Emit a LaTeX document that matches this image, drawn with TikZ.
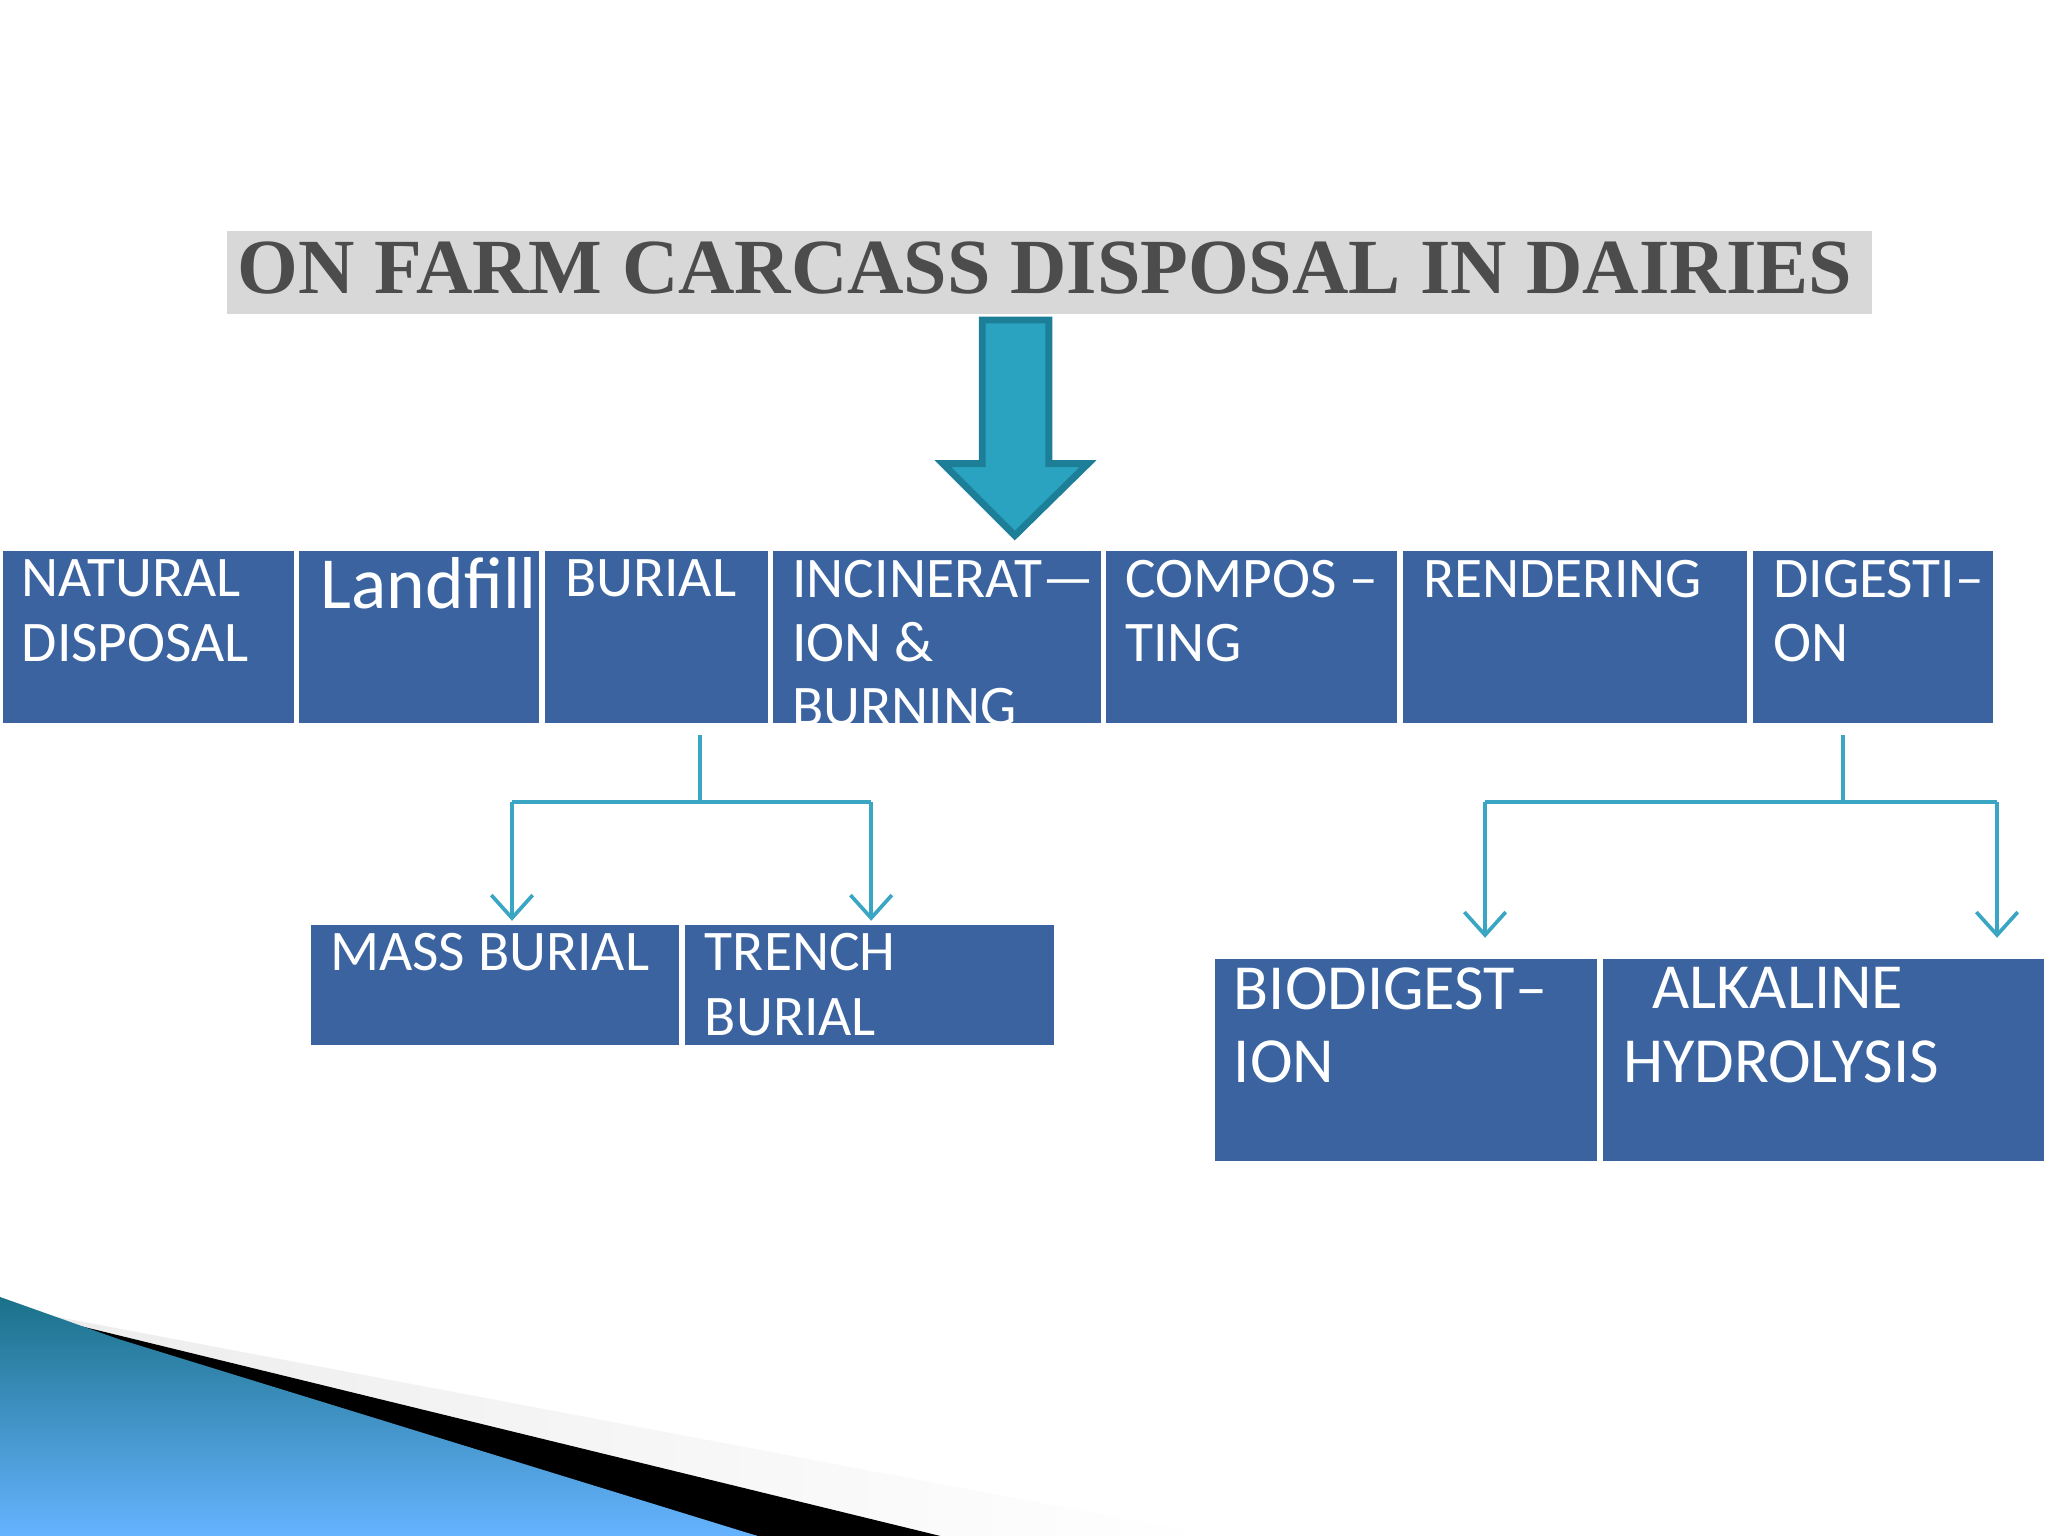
\documentclass[tikz,border=0pt]{standalone}
\usepackage{fontspec}
\setmainfont{Carlito}
\newfontfamily\titlefont{Liberation Serif}
\usetikzlibrary{arrows.meta,shadows}
\definecolor{boxblue}{HTML}{3A63A0}
\definecolor{lineblue}{HTML}{3BA6C4}
\definecolor{arrfill}{HTML}{2AA3C0}
\definecolor{arrdraw}{HTML}{1D7E98}
\begin{document}
\begin{tikzpicture}[x=0.01cm,y=-0.01cm,
  cell/.style={fill=boxblue,draw=white,line width=1.2pt},
  lbl/.style={anchor=north west,text=white,font=\fontsize{12.5}{14}\selectfont,align=left,inner sep=0pt},
  conn/.style={draw=lineblue,line width=0.8pt},
  arr/.style={conn,-{Straight Barb[length=5pt,width=9pt]}}]
\useasboundingbox (0,0) rectangle (1568,1176);
\fill[white] (0,0) rectangle (1568,1176);
% bottom decoration
\shade[left color=gray!15,right color=white] (0,1000) -- (930,1176) -- (0,1176) -- cycle;
\fill[black] (40,1010) -- (720,1176) -- (580,1176) -- (0,1020) -- cycle;
\shade[bottom color=cyan!50!blue!60!white,top color=arrdraw!90!black] (0,993) -- (90,1025) -- (580,1176) -- (0,1176) -- cycle;
% title
\node[font=\titlefont\bfseries\fontsize{17}{20}\selectfont,text=black!70,drop shadow={opacity=0.3,shadow xshift=1pt,shadow yshift=-1pt}] (title) at (800,205) {ON FARM CARCASS DISPOSAL IN DAIRIES};
% big arrow
\draw[fill=arrfill,draw=arrdraw,line width=1.5pt] (752,245) -- (803,245) -- (803,355) -- (833,355) -- (777,410) -- (722,355) -- (752,355) -- cycle;
% top cells
\foreach \a/\b/\n in {0/227/c1,227/415/c2,415/590/c3,590/845/c4,845/1072/c5,1072/1340/c6,1340/1528/c7}
  \path[cell] (\a,420) rectangle (\b,556) coordinate (\n);
\node[lbl] (t1) at (16,428) {NATURAL\\DISPOSAL};
\node[lbl,font=\fontsize{16}{18}\selectfont] (t2) at (245,426) {Landfill};
\node[lbl] (t3) at (432,428) {BURIAL};
\node[lbl] (t4) at (606,428) {INCINERAT—\\ION \&\\BURNING};
\node[lbl] (t5) at (861,428) {COMPOS –\\TING};
\node[lbl] (t6) at (1089,428) {RENDERING};
\node[lbl] (t7) at (1357,428) {DIGESTI–\\ON};
% lower cells
\path[cell] (236,706) rectangle (522,802);
\path[cell] (522,706) rectangle (809,802);
\node[lbl] (m1) at (252,714) {MASS BURIAL};
\node[lbl] (m2) at (539,714) {TRENCH\\BURIAL};
\path[cell] (928,732) rectangle (1225,891);
\path[cell] (1225,732) rectangle (1567,891);
\node[lbl,font=\fontsize{14}{16}\selectfont] (b1) at (944,740) {BIODIGEST–\\ION};
\node[lbl,font=\fontsize{14}{16}\selectfont] (b2) at (1242,740) {\ \ ALKALINE\\HYDROLYSIS};
% connectors
\coordinate (s1) at (536,563); \coordinate (j1) at (536,614);
\coordinate (l1) at (392,614); \coordinate (r1) at (667,614);
\coordinate (e1) at (392,705); \coordinate (f1) at (667,705);
\draw[conn] (s1) -- (j1); \draw[conn] (l1) -- (r1);
\draw[arr] (l1) -- (e1); \draw[arr] (r1) -- (f1);
\coordinate (s2) at (1411,563); \coordinate (j2) at (1411,614);
\coordinate (l2) at (1137,614); \coordinate (r2) at (1529,614);
\coordinate (e2) at (1137,718); \coordinate (f2) at (1529,718);
\draw[conn] (s2) -- (j2); \draw[conn] (l2) -- (r2);
\draw[arr] (l2) -- (e2); \draw[arr] (r2) -- (f2);
\end{tikzpicture}
\end{document}
